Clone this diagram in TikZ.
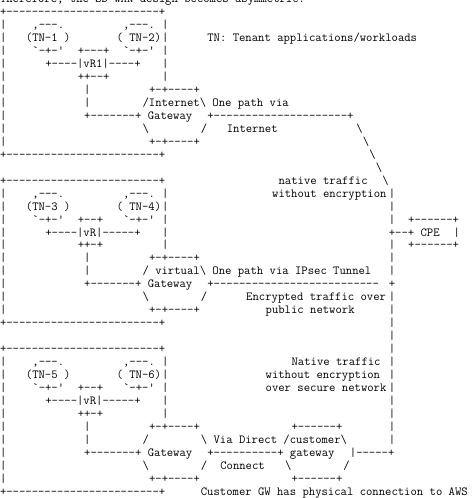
\documentclass[tikz,border=0pt]{standalone}
\usepackage{fontspec}
\newcommand\asciifont{\ttfamily\fontsize{12.34}{12.95}\selectfont}
\newcommand\bksl{\textbackslash}
\tikzset{asc/.style={font=\asciifont, anchor=base west, inner sep=0pt, outer sep=0pt}}
\begin{document}
\begin{tikzpicture}[x=6.48pt, y=-12.95pt]
    \path[use as bounding box, clip] (0pt,2.9pt) rectangle (474pt,-495.1pt);
    \node[asc] (intro) at (0,0) {Therefore, the SD-WAN design becomes asymmetric.};

    % Site 1: one path via Internet
    \node[asc] (a-top) at (0,1) {+------------------------+};
    \foreach \r in {2,...,11} \node[asc] (a-wl-\r) at (0,\r) {|};
    \foreach \r in {2,...,6} \node[asc] (a-wr-\r) at (25,\r) {|};
    \node[asc] (tn1-hat) at (5,2) {,---.};
    \node[asc] (tn2-hat) at (19,2) {,---.};
    \node[asc] (tn1) at (4,3) {(TN-1 )};
    \node[asc] (tn2) at (18,3) {( TN-2)};
    \node[asc] (legend) at (32,3) {TN: Tenant applications/workloads};
    \node[asc] (tn1-foot) at (5,4) {`-+-'};
    \node[asc] (vr1-top) at (12,4) {+---+};
    \node[asc] (tn2-foot) at (19,4) {`-+-'};
    \node[asc] (vr1) at (7,5) {+----|vR1|----+};
    \node[asc] (vr1-bot) at (12,6) {++--+};
    \node[asc] (a-v7) at (13,7) {|};
    \node[asc] (igw-top) at (23,7) {+-+----+};
    \node[asc] (a-v8) at (13,8) {|};
    \node[asc] (igw-name) at (22,8) {/Internet\bksl{} One path via};
    \node[asc] (a-link) at (13,9) {+-------+ Gateway};
    \node[asc] (inet-link) at (32,9) {+---------------------+};
    \node[asc] (igw-bl) at (22,10) {\bksl};
    \node[asc] (igw-br) at (31,10) {/};
    \node[asc] (inet-lbl) at (35,10) {Internet};
    \node[asc] (d10) at (55,10) {\bksl};
    \node[asc] (igw-bot) at (23,11) {+-+----+};
    \node[asc] (d11) at (56,11) {\bksl};
    \node[asc] (a-bot) at (0,12) {+------------------------+};
    \node[asc] (d12) at (57,12) {\bksl};
    \node[asc] (d13) at (58,13) {\bksl};

    % Site 2: one path via IPsec tunnel
    \node[asc] (b-top) at (0,14) {+------------------------+};
    \node[asc] (native-1) at (43,14) {native traffic};
    \node[asc] (d14) at (59,14) {\bksl};
    \foreach \r in {15,...,24} \node[asc] (b-wl-\r) at (0,\r) {|};
    \foreach \r in {15,...,19} \node[asc] (b-wr-\r) at (25,\r) {|};
    \node[asc] (tn3-hat) at (5,15) {,---.};
    \node[asc] (tn4-hat) at (19,15) {,---.};
    \node[asc] (native-2) at (42,15) {without encryption};
    \node[asc] (tn3) at (4,16) {(TN-3 )};
    \node[asc] (tn4) at (18,16) {( TN-4)};
    \node[asc] (tn3-foot) at (5,17) {`-+-'};
    \node[asc] (vr2-top) at (12,17) {+--+};
    \node[asc] (tn4-foot) at (19,17) {`-+-'};
    \node[asc] (cpe-top) at (63,17) {+------+};
    \node[asc] (vr2) at (7,18) {+----|vR|-----+};
    \node[asc] (cpe) at (60,18) {+--+ CPE};
    \node[asc] (cpe-r) at (70,18) {|};
    \node[asc] (vr2-bot) at (12,19) {++-+};
    \node[asc] (cpe-bot) at (63,19) {+------+};
    \node[asc] (b-v20) at (13,20) {|};
    \node[asc] (vgw-top) at (23,20) {+-+----+};
    \node[asc] (b-v21) at (13,21) {|};
    \node[asc] (vgw-name) at (22,21) {/ virtual\bksl{} One path via IPsec Tunnel};
    \node[asc] (b-link) at (13,22) {+-------+ Gateway};
    \node[asc] (ipsec-link) at (32,22) {+--------------------------};
    \node[asc] (ipsec-end) at (60,22) {+};
    \node[asc] (vgw-bl) at (22,23) {\bksl};
    \node[asc] (vgw-br) at (31,23) {/};
    \node[asc] (enc-1) at (38,23) {Encrypted traffic over};
    \node[asc] (vgw-bot) at (23,24) {+-+----+};
    \node[asc] (enc-2) at (41,24) {public network};
    \node[asc] (b-bot) at (0,25) {+------------------------+};
    \foreach \r in {15,16,17,19,20,21,23,24,25,26,27,28,29,30,31,32,33,34}
        \node[asc] (trunk-\r) at (60,\r) {|};

    % Site 3: via Direct Connect
    \node[asc] (c-top) at (0,27) {+------------------------+};
    \foreach \r in {28,...,37} \node[asc] (c-wl-\r) at (0,\r) {|};
    \foreach \r in {28,...,32} \node[asc] (c-wr-\r) at (25,\r) {|};
    \node[asc] (tn5-hat) at (5,28) {,---.};
    \node[asc] (tn6-hat) at (19,28) {,---.};
    \node[asc] (secure-1) at (45,28) {Native traffic};
    \node[asc] (tn5) at (4,29) {(TN-5 )};
    \node[asc] (tn6) at (18,29) {( TN-6)};
    \node[asc] (secure-2) at (41,29) {without encryption};
    \node[asc] (tn5-foot) at (5,30) {`-+-'};
    \node[asc] (vr3-top) at (12,30) {+--+};
    \node[asc] (tn6-foot) at (19,30) {`-+-'};
    \node[asc] (secure-3) at (41,30) {over secure network};
    \node[asc] (vr3) at (7,31) {+----|vR|-----+};
    \node[asc] (vr3-bot) at (12,32) {++-+};
    \node[asc] (c-v33) at (13,33) {|};
    \node[asc] (dgw-top) at (23,33) {+-+----+};
    \node[asc] (cgw-top) at (45,33) {+------+};
    \node[asc] (c-v34) at (13,34) {|};
    \node[asc] (dgw-tl) at (22,34) {/};
    \node[asc] (dx-lbl) at (31,34) {\bksl{} Via Direct /customer\bksl};
    \node[asc] (c-link) at (13,35) {+-------+ Gateway};
    \node[asc] (dx-link) at (32,35) {+----------+ gateway};
    \node[asc] (cgw-link) at (54,35) {|-----+};
    \node[asc] (dgw-bl) at (22,36) {\bksl};
    \node[asc] (dgw-br) at (31,36) {/};
    \node[asc] (dx-lbl2) at (34,36) {Connect};
    \node[asc] (cgw-bl) at (44,36) {\bksl};
    \node[asc] (cgw-br) at (53,36) {/};
    \node[asc] (dgw-bot) at (23,37) {+-+----+};
    \node[asc] (cgw-bot) at (45,37) {+------+};
    \node[asc] (c-bot) at (0,38) {+------------------------+};
    \node[asc] (note) at (31,38) {Customer GW has physical connection to AWS};
\end{tikzpicture}
\end{document}
